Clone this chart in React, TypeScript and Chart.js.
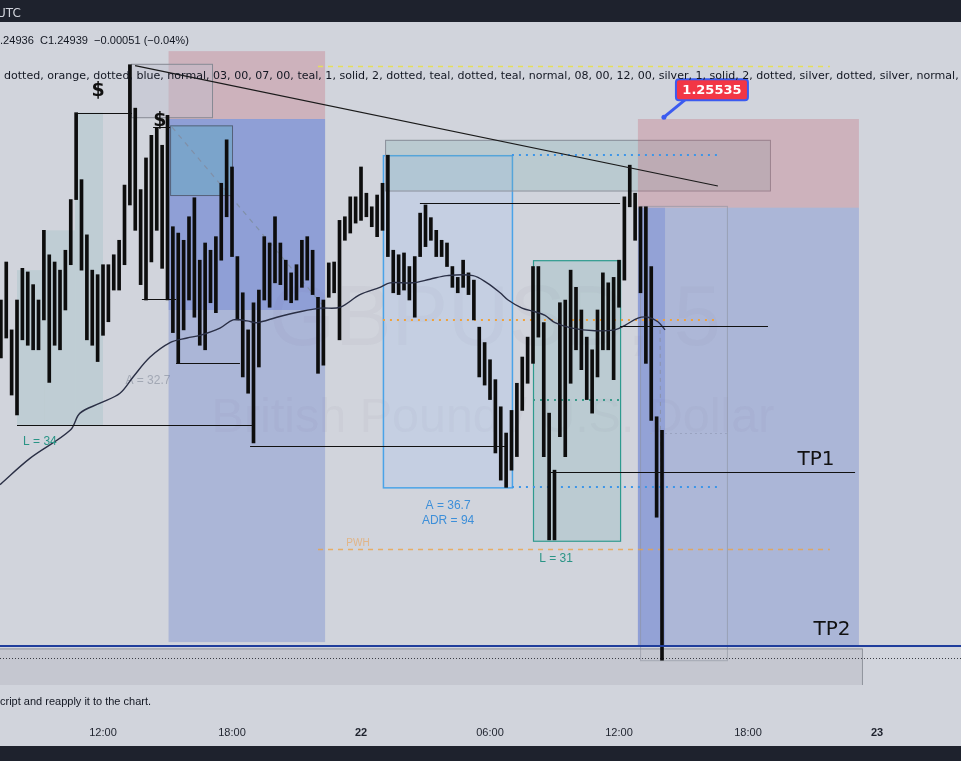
import React, { useEffect, useRef } from "react";
import { Chart, registerables } from "chart.js";

Chart.register(...registerables);

// ---------- data (GBPUSD 5m, shown as 15-minute high/low bars) ----------
const BAR_START_HOUR = 7.25; // hours since 21st 00:00 UTC
const BAR_STEP_HOURS = 0.25;
const BAR_HIGHS = [
  1.25335, 1.25377, 1.25302, 1.25335, 1.2537, 1.25366, 1.25352, 1.25335, 1.25412, 1.25385,
  1.25377, 1.25368, 1.2539, 1.25446, 1.25542, 1.25468, 1.25407, 1.25368, 1.25363, 1.25374,
  1.25374, 1.25385, 1.25401, 1.25462, 1.25595, 1.25547, 1.25457, 1.25492, 1.25517, 1.25525,
  1.25506, 1.25539, 1.25416, 1.25409, 1.25401, 1.25427, 1.25448, 1.25379, 1.25398, 1.2539,
  1.25405, 1.25464, 1.25512, 1.25482, 1.25383, 1.25343, 1.25302, 1.25332, 1.25346, 1.25405,
  1.25398, 1.25427, 1.25398, 1.25379, 1.25365, 1.25374, 1.25401, 1.25405, 1.2539, 1.25338,
  1.25335, 1.25376, 1.25377, 1.25423, 1.25427, 1.25449, 1.25449, 1.25482, 1.25453, 1.25438,
  1.25451, 1.25464, 1.25495, 1.2539, 1.25385, 1.25387, 1.25372, 1.25383, 1.25431, 1.2544,
  1.25426, 1.25412, 1.25401, 1.25398, 1.25372, 1.2536, 1.25379, 1.25365, 1.25357, 1.25305,
  1.25288, 1.25269, 1.25247, 1.25217, 1.25188, 1.25213, 1.25243, 1.25272, 1.25294, 1.25372,
  1.25372, 1.2531, 1.2521, 1.25147, 1.25332, 1.25335, 1.25368, 1.25349, 1.25324, 1.25294,
  1.2528, 1.25324, 1.25365, 1.25354, 1.2536, 1.25379, 1.25449, 1.25484, 1.25453, 1.25438,
  1.25438, 1.25372, 1.25206, 1.25191,
];
const BAR_LOWS = [
  1.25271, 1.25293, 1.2523, 1.25208, 1.25291, 1.25285, 1.2528, 1.2528, 1.25313, 1.25244,
  1.25285, 1.2528, 1.25324, 1.25374, 1.25446, 1.25368, 1.25291, 1.25285, 1.25267, 1.25296,
  1.25311, 1.25346, 1.25346, 1.25374, 1.2544, 1.25412, 1.25352, 1.25335, 1.25377, 1.25412,
  1.2537, 1.25335, 1.25299, 1.25265, 1.25302, 1.25335, 1.25316, 1.25285, 1.2528, 1.25332,
  1.25321, 1.25379, 1.25427, 1.25383, 1.25313, 1.2525, 1.25232, 1.25177, 1.25261, 1.25335,
  1.25327, 1.25354, 1.25352, 1.25335, 1.25332, 1.25335, 1.25349, 1.25357, 1.25341, 1.25254,
  1.25263, 1.25338, 1.25343, 1.25291, 1.25401, 1.25409, 1.2542, 1.25423, 1.25427, 1.25416,
  1.25405, 1.25412, 1.25383, 1.25343, 1.25341, 1.25346, 1.25335, 1.25316, 1.25383, 1.25394,
  1.25401, 1.25383, 1.25383, 1.25372, 1.25349, 1.25343, 1.25349, 1.25341, 1.25313, 1.2525,
  1.25241, 1.25225, 1.25166, 1.25136, 1.25128, 1.25147, 1.25162, 1.25213, 1.25243, 1.25265,
  1.25294, 1.25162, 1.2507, 1.2507, 1.25184, 1.25162, 1.25243, 1.2528, 1.25258, 1.25225,
  1.2521, 1.2525, 1.2528, 1.2528, 1.25247, 1.25327, 1.25357, 1.25438, 1.25401, 1.25343,
  1.25265, 1.25202, 1.25095, 1.24937,
];

const MA_HOURS = [
  7.21, 8.6, 10.47, 10.93, 11.86, 12.79, 13.4, 14.19, 15.12, 15.91, 16.51, 17.44, 18.05, 18.7,
  19.16, 20.09, 21.16, 22.09, 23.02, 23.95, 24.88, 25.35, 26.42, 27.21, 28.0, 29.21, 29.86,
  30.47, 30.84, 31.49, 32.09, 32.56, 33.02, 33.81, 34.88, 35.81, 36.28, 36.88, 37.35, 37.81, 38.14,
];
const MA_VALUES = [
  1.25131, 1.2516, 1.25191, 1.2521, 1.25221, 1.25232, 1.2525, 1.25272, 1.25288, 1.25293,
  1.25296, 1.25304, 1.25313, 1.25312, 1.2531, 1.25316, 1.25322, 1.25326, 1.25327, 1.25341,
  1.25349, 1.25354, 1.25354, 1.25358, 1.25362, 1.25362, 1.25354, 1.25343, 1.25335, 1.25326,
  1.25322, 1.25318, 1.2531, 1.25304, 1.25301, 1.25302, 1.25307, 1.25315, 1.25316, 1.25311, 1.25302,
];

const TICK_HOURS = [12, 18, 24, 30, 36, 42, 48];
const TICK_LABELS = ["12:00", "18:00", "22", "06:00", "12:00", "18:00", "23"];

const X_MIN = 7.209;
const X_MAX = 51.907;
const Y_MIN = 1.249096;
const Y_MAX = 1.256422;

const LAST_PRICE = 1.24939;
const ENTRY_PRICE = 1.25535;
const TP1_PRICE = 1.25145;
const TP2_PRICE = 1.24953;

// drawings: [startHour, endHour, topPrice, bottomPrice]
const L34_STEPS = [
  [8.0, 9.3, 1.25368, 1.25197],
  [9.3, 10.7, 1.25412, 1.25197],
  [10.7, 12.0, 1.25542, 1.25197],
];
const POS1_STOP = [15.05, 22.33, 1.2561, 1.25535];
const POS1_TARGET = [15.05, 22.33, 1.25535, 1.24957];
const POS1_FILLED = [15.05, 22.33, 1.25535, 1.25324];
const GREY_BOX = [13.3, 17.07, 1.25596, 1.25537];
const STEEL_BOX = [15.12, 18.0, 1.25528, 1.25451];
const ASIA_BOX = [25.02, 31.02, 1.25495, 1.25128];
const ZONE_BOX = [25.12, 43.02, 1.25512, 1.25456];
const LONDON_BOX = [32.0, 36.05, 1.25379, 1.25069];
const POS2_STOP = [36.88, 47.16, 1.25535, 1.25437];
const POS2_TARGET = [36.88, 47.16, 1.25437, 1.24953];
const POS2_FILLED = [36.88, 38.14, 1.25437, 1.24953];
const POS2_OUTLINE = [36.98, 41.02, 1.25439, 1.24937];
const BOTTOM_BOX = [6.0, 47.3, 1.2495, 1.2489];

// horizontal levels: [startHour, endHour, price]
const BLACK_LEVELS = [
  [10.7, 13.35, 1.25542],
  [14.33, 15.12, 1.25526],
  [13.81, 15.4, 1.25336],
  [15.4, 18.37, 1.25265],
  [8.0, 18.98, 1.25197],
  [18.84, 30.7, 1.25174],
  [26.74, 36.05, 1.25442],
  [32.79, 46.98, TP1_PRICE],
  [36.05, 42.93, 1.25306],
];
const TRENDLINE = [13.49, 1.25594, 40.6, 1.25461];
const DASHED_DIAG = [15.21, 1.25526, 22.19, 1.2533];

// ---------- drawing helpers ----------
const BG = "#d1d4dc";
const DARK = "#1e222d";

function rectFromData(chart: any, b: number[]) {
  const xs = chart.scales.x;
  const ys = chart.scales.y;
  const x1 = xs.getPixelForValue(b[0]);
  const x2 = xs.getPixelForValue(b[1]);
  const y1 = ys.getPixelForValue(b[2]);
  const y2 = ys.getPixelForValue(b[3]);
  return { x: x1, y: y1, w: x2 - x1, h: y2 - y1 };
}

function box(chart: any, b: number[], fill: string | null, stroke?: string, lw = 1) {
  const { ctx } = chart;
  const r = rectFromData(chart, b);
  if (fill) {
    ctx.fillStyle = fill;
    ctx.fillRect(r.x, r.y, r.w, r.h);
  }
  if (stroke) {
    ctx.strokeStyle = stroke;
    ctx.lineWidth = lw;
    ctx.setLineDash([]);
    ctx.strokeRect(r.x + 0.5, r.y + 0.5, r.w, r.h);
  }
}

function hline(chart: any, h1: number, h2: number, p: number, color: string, lw: number, dash: number[]) {
  const { ctx } = chart;
  const xs = chart.scales.x;
  const ys = chart.scales.y;
  const y = Math.round(ys.getPixelForValue(p)) + (lw % 2 ? 0.5 : 0);
  ctx.beginPath();
  ctx.strokeStyle = color;
  ctx.lineWidth = lw;
  ctx.setLineDash(dash);
  ctx.moveTo(xs.getPixelForValue(h1), y);
  ctx.lineTo(xs.getPixelForValue(h2), y);
  ctx.stroke();
  ctx.setLineDash([]);
}

function seg(chart: any, s: number[], color: string, lw: number, dash: number[]) {
  const { ctx } = chart;
  const xs = chart.scales.x;
  const ys = chart.scales.y;
  ctx.beginPath();
  ctx.strokeStyle = color;
  ctx.lineWidth = lw;
  ctx.setLineDash(dash);
  ctx.moveTo(xs.getPixelForValue(s[0]), ys.getPixelForValue(s[1]));
  ctx.lineTo(xs.getPixelForValue(s[2]), ys.getPixelForValue(s[3]));
  ctx.stroke();
  ctx.setLineDash([]);
}

function text(
  ctx: CanvasRenderingContext2D,
  t: string,
  x: number,
  y: number,
  font: string,
  color: string,
  align: CanvasTextAlign = "left",
  baseline: CanvasTextBaseline = "middle"
) {
  ctx.font = font;
  ctx.fillStyle = color;
  ctx.textAlign = align;
  ctx.textBaseline = baseline;
  ctx.fillText(t, x, y);
}

function dataText(chart: any, t: string, h: number, p: number, font: string, color: string, align: CanvasTextAlign = "center", baseline: CanvasTextBaseline = "middle") {
  text(chart.ctx, t, chart.scales.x.getPixelForValue(h), chart.scales.y.getPixelForValue(p), font, color, align, baseline);
}

function fitSize(ctx: CanvasRenderingContext2D, t: string, family: string, weight: string, target: number) {
  ctx.font = `${weight} 20px ${family}`;
  const w = ctx.measureText(t).width;
  return (20 * target) / w;
}

const overlayPlugin = {
  id: "tvOverlay",
  beforeDraw(chart: any) {
    const { ctx, width, height } = chart;
    ctx.save();
    ctx.fillStyle = BG;
    ctx.fillRect(0, 0, width, height);
    ctx.restore();
  },
  beforeDatasetsDraw(chart: any) {
    const { ctx, chartArea: a } = chart;
    ctx.save();
    ctx.beginPath();
    ctx.rect(a.left, a.top, a.right - a.left, a.bottom - a.top);
    ctx.clip();

    // watermark
    const wmColor = "rgba(90,100,125,0.045)";
    const s1 = fitSize(ctx, "GBPUSD, 5", "Liberation Sans", "normal", 452);
    text(ctx, "GBPUSD, 5", 495, 345, `${s1}px Liberation Sans`, wmColor, "center", "alphabetic");
    const s2 = fitSize(ctx, "British Pound / U.S. Dollar", "Liberation Sans", "normal", 563);
    text(ctx, "British Pound / U.S. Dollar", 493, 432, `${s2}px Liberation Sans`, wmColor, "center", "alphabetic");

    // previous london range (stepped)
    for (const st of L34_STEPS) box(chart, st, "rgba(120,180,180,0.2)");

    dataText(chart, "A = 32.7", 14.09, 1.25246, "12px Liberation Sans", "rgba(150,156,170,0.8)");

    // first position tool
    box(chart, POS1_STOP, "rgba(195,100,115,0.3)");
    box(chart, POS1_TARGET, "rgba(60,90,200,0.25)");
    box(chart, POS1_FILLED, "rgba(60,90,210,0.25)");
    box(chart, GREY_BOX, "rgba(190,190,205,0.4)", "#878a94");
    box(chart, STEEL_BOX, "rgba(100,170,190,0.45)", "#55617a");

    // sessions
    box(chart, ASIA_BOX, "rgba(150,190,250,0.2)", "#4aa3e8", 1.5);
    box(chart, LONDON_BOX, "rgba(100,170,170,0.2)", "#2e9a8e", 1.2);
    box(chart, ZONE_BOX, "rgba(120,170,170,0.25)", "#8a8f99");

    // second position tool
    box(chart, POS2_STOP, "rgba(195,100,115,0.3)");
    box(chart, POS2_TARGET, "rgba(60,90,200,0.25)");
    box(chart, POS2_FILLED, "rgba(60,90,210,0.25)");
    box(chart, POS2_OUTLINE, "rgba(200,200,215,0.08)", "rgba(140,145,160,0.6)");

    box(chart, BOTTOM_BOX, "rgba(150,150,160,0.2)", "#8f939c");

    // dotted / dashed levels
    hline(chart, 22.0, 45.81, 1.25594, "#e6df5a", 1.5, [5, 5]);
    hline(chart, 31.02, 40.6, 1.25495, "#3d95e8", 2, [2, 5]);
    hline(chart, 31.02, 40.6, 1.25128, "#3d95e8", 2, [2, 5]);
    hline(chart, 25.02, 40.6, 1.25313, "#f0a23a", 2, [2, 5]);
    hline(chart, 32.0, 36.05, 1.25224, "#3a9a8a", 2, [2, 5]);
    hline(chart, 37.44, 41.02, 1.25188, "#9aa3c0", 1, [2, 3]);
    hline(chart, 22.0, 45.81, 1.2506, "rgba(240,160,60,0.75)", 1.5, [5, 5]);
    hline(chart, X_MIN, X_MAX, LAST_PRICE, "#3a3d45", 1, [1, 2]);
    seg(chart, [37.91, 1.25302, 37.97, 1.24957], "#8a92aa", 1, [4, 4]);
    seg(chart, DASHED_DIAG, "#8090a8", 1.2, [5, 5]);

    ctx.restore();
  },
  afterDatasetsDraw(chart: any) {
    const { ctx, chartArea: a } = chart;
    const xs = chart.scales.x;
    const ys = chart.scales.y;
    ctx.save();
    ctx.beginPath();
    ctx.rect(a.left, a.top, a.right - a.left, a.bottom - a.top);
    ctx.clip();

    for (const l of BLACK_LEVELS) hline(chart, l[0], l[1], l[2], "#111", 1, []);
    seg(chart, TRENDLINE, "#1a1a1a", 1.2, []);
    hline(chart, X_MIN, X_MAX, TP2_PRICE, "#1f3d9c", 2, []);

    dataText(chart, "$", 11.77, 1.25566, "bold 19px DejaVu Sans", "#111");
    dataText(chart, "$", 14.65, 1.25533, "bold 19px DejaVu Sans", "#111");
    dataText(chart, "L = 34", 8.28, 1.25178, "12px Liberation Sans", "#2a9486", "left");
    dataText(chart, "A = 36.7", 28.05, 1.25108, "12px Liberation Sans", "#3d8fd9");
    dataText(chart, "ADR = 94", 28.05, 1.25091, "12px Liberation Sans", "#3d8fd9");
    dataText(chart, "L = 31", 33.07, 1.25049, "12px Liberation Sans", "#2a9486");
    dataText(chart, "PWH", 23.86, 1.25066, "10px Liberation Sans", "rgba(235,160,80,0.6)");
    text(ctx, "TP1", xs.getPixelForValue(45.16), ys.getPixelForValue(TP1_PRICE) - 2, "20px DejaVu Sans", "#111", "center", "bottom");
    text(ctx, "TP2", xs.getPixelForValue(45.91), ys.getPixelForValue(TP2_PRICE) - 6, "20px DejaVu Sans", "#111", "center", "bottom");

    // price note callout
    const ax = xs.getPixelForValue(38.09);
    const ay = ys.getPixelForValue(ENTRY_PRICE + 0.00002);
    ctx.strokeStyle = "#3b5bf0";
    ctx.lineWidth = 3;
    ctx.beginPath();
    ctx.moveTo(ax, ay);
    ctx.lineTo(ax + 22, ay - 18);
    ctx.stroke();
    ctx.fillStyle = "#3b5bf0";
    ctx.beginPath();
    ctx.arc(ax, ay, 2.5, 0, Math.PI * 2);
    ctx.fill();
    const bx = ax + 12;
    const by = ay - 38;
    ctx.beginPath();
    ctx.roundRect(bx, by, 72, 21, 3);
    ctx.fillStyle = "#f23645";
    ctx.fill();
    ctx.lineWidth = 2;
    ctx.strokeStyle = "#3b5bf0";
    ctx.stroke();
    text(ctx, ENTRY_PRICE.toFixed(5), bx + 36, by + 11, "bold 13px DejaVu Sans", "#ffffff", "center", "middle");

    ctx.restore();
  },
  afterDraw(chart: any) {
    const { ctx, width, height } = chart;
    ctx.save();
    ctx.fillStyle = DARK;
    ctx.fillRect(0, 0, width, 22);
    ctx.fillRect(0, height - 15, width, 15);
    text(ctx, "UTC", -3, 14, "12px DejaVu Sans", "#d1d4dc", "left", "middle");

    const ohlc = ".24936  C1.24939  \u22120.00051 (\u22120.04%)";
    const so = fitSize(ctx, ohlc, "Liberation Sans", "normal", 189);
    text(ctx, ohlc, 0, 41, `${so}px Liberation Sans`, "#131722", "left", "middle");

    const legend =
      "dotted, orange, dotted, blue, normal, 03, 00, 07, 00, teal, 1, solid, 2, dotted, teal, dotted, teal, normal, 08, 00, 12, 00, silver, 1, solid, 2, dotted, silver, dotted, silver, normal,";
    const sl = fitSize(ctx, legend, "DejaVu Sans", "normal", 955);
    text(ctx, legend, 4, 76, `${sl}px DejaVu Sans`, "#131722", "left", "middle");

    text(ctx, "cript and reapply it to the chart.", 0, 702, "11px Liberation Sans", "#131722", "left", "middle");
    ctx.restore();
  },
};

export default function App() {
  const ref = useRef<HTMLCanvasElement | null>(null);

  useEffect(() => {
    if (!ref.current) return;
    const bars = BAR_HIGHS.map((hi, i) => ({
      x: BAR_START_HOUR + i * BAR_STEP_HOURS,
      y: [BAR_LOWS[i], hi],
    }));
    const ma = MA_HOURS.map((h, i) => ({ x: h, y: MA_VALUES[i] }));

    const chart = new Chart(ref.current, {
      type: "bar",
      data: {
        datasets: [
          {
            type: "bar",
            data: bars as any,
            backgroundColor: "#0d0d0d",
            borderWidth: 0,
            barThickness: 3,
            grouped: false,
            order: 2,
          } as any,
          {
            type: "line",
            data: ma as any,
            borderColor: "#2a2f45",
            borderWidth: 1.4,
            pointRadius: 0,
            tension: 0.35,
            order: 1,
          } as any,
        ],
      },
      options: {
        responsive: false,
        maintainAspectRatio: false,
        animation: false,
        layout: { padding: { top: 22, bottom: 16, left: 0, right: 0 } },
        plugins: { legend: { display: false }, tooltip: { enabled: false } },
        scales: {
          x: {
            type: "linear",
            min: X_MIN,
            max: X_MAX,
            offset: false,
            grid: { display: false, drawTicks: false },
            border: { display: false },
            afterBuildTicks: (s: any) => {
              s.ticks = TICK_HOURS.map((v) => ({ value: v }));
            },
            afterFit: (s: any) => {
              s.height = 60;
            },
            ticks: {
              autoSkip: false,
              maxRotation: 0,
              padding: 41,
              color: "#1e222d",
              callback: (v: any) => {
                const i = TICK_HOURS.indexOf(Number(v));
                return i >= 0 ? TICK_LABELS[i] : "";
              },
              font: (c: any) => {
                const i = c.tick ? TICK_HOURS.indexOf(c.tick.value) : -1;
                const lbl = i >= 0 ? TICK_LABELS[i] : "";
                return {
                  family: "Liberation Sans",
                  size: 11,
                  weight: lbl.indexOf(":") < 0 ? "bold" : "normal",
                };
              },
            },
          } as any,
          y: { type: "linear", display: false, min: Y_MIN, max: Y_MAX },
        },
      },
      plugins: [overlayPlugin as any],
    });
    return () => chart.destroy();
  }, []);

  return (
    <div style={{ position: "fixed", left: 0, top: 0, width: 961, height: 761 }}>
      <canvas ref={ref} width={961} height={761} style={{ width: 961, height: 761, display: "block" }} />
    </div>
  );
}
